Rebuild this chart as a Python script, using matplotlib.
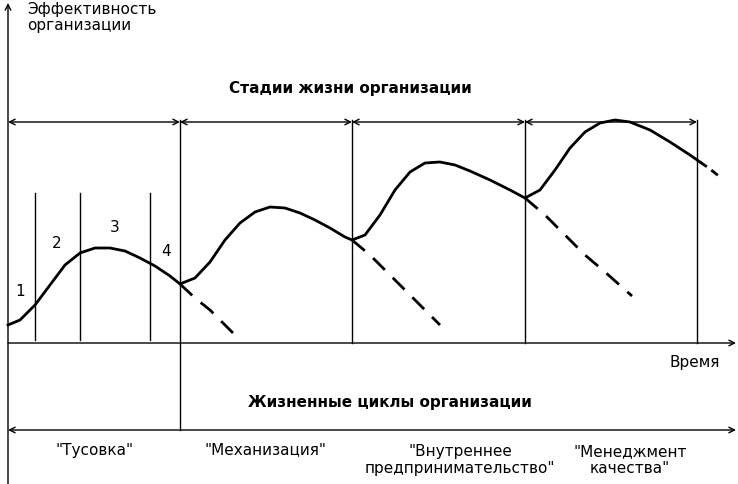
import matplotlib.pyplot as plt

# schematic drawn in pixel coordinates of the reference (y grows downward)
curve_x = [8, 20, 35, 50, 65, 80, 95, 110, 125, 140, 155, 170, 180, 195, 210, 225, 240, 255, 270,
           285, 300, 315, 330, 345, 352, 365, 380, 395, 410, 425, 440, 455, 470, 490, 510, 525,
           540, 555, 570, 585, 600, 615, 630, 650, 670, 690, 700]
curve_y = [325, 320, 305, 285, 265, 253, 248, 248, 251, 258, 266, 276, 284, 278, 262, 240, 223, 212, 207,
           208, 213, 220, 228, 237, 240, 235, 215, 190, 172, 163, 162, 165, 171, 180, 190, 198,
           190, 170, 148, 132, 123, 120, 122, 130, 142, 155, 162]
tail_x = [700, 710, 720]
tail_y = [162, 169, 177]
decline = [
    ([180, 195, 210, 225, 238], [284, 298, 310, 325, 338]),
    ([352, 370, 390, 410, 425, 440], [240, 255, 275, 295, 310, 325]),
    ([525, 545, 565, 585, 605, 632], [198, 215, 235, 255, 272, 296]),
]
stage_x = [8, 180, 352, 525, 697]
sub_x = [35, 80, 150]
sub_labels = ["1", "2", "3", "4"]
sub_label_pos = [(20, 292), (57, 243), (115, 228), (166, 252)]
cycle_labels = ['"Тусовка"', '"Механизация"', '"Внутреннее\nпредпринимательство"', '"Менеджмент\nкачества"']
cycle_label_pos = [(95, 450), (265, 450), (460, 460), (630, 460)]

fig = plt.figure(figsize=(7.38, 4.84), dpi=100)
ax = fig.add_axes([0, 0, 1, 1])
ax.set_xlim(0, 738)
ax.set_ylim(484, 0)
ax.axis("off")
plt.rcParams["font.family"] = "DejaVu Sans"

arr = dict(arrowstyle="->", color="black", lw=1, shrinkA=0, shrinkB=0)
darr = dict(arrowstyle="<->", color="black", lw=1, shrinkA=0, shrinkB=0)

# axes
ax.annotate("", xy=(8, 3), xytext=(8, 484), arrowprops=arr)
ax.annotate("", xy=(736, 343), xytext=(8, 343), arrowprops=arr)

# stage lines and arrows
for i, x in enumerate(stage_x[1:]):
    y0 = 430 if x == 180 else 343
    ax.plot([x, x], [120, y0], color="black", lw=1)
for a, b in zip(stage_x[:-1], stage_x[1:]):
    ax.annotate("", xy=(b, 122), xytext=(a, 122), arrowprops=darr)
ax.annotate("", xy=(736, 430), xytext=(8, 430), arrowprops=darr)

for x in sub_x:
    ax.plot([x, x], [193, 340], color="black", lw=1)

ax.plot(curve_x, curve_y, color="black", lw=2)
ax.plot(tail_x, tail_y, color="black", lw=2, ls=(0, (3, 2)))
for dx, dy in decline:
    ax.plot(dx, dy, color="black", lw=2, ls=(0, (6, 4)))

ax.text(27, 2, "Эффективность\nорганизации", fontsize=11, va="top", ha="left", linespacing=1.1)
ax.text(350, 88, "Стадии жизни организации", fontsize=11, fontweight="bold", ha="center", va="center")
ax.text(720, 362, "Время", fontsize=11, ha="right", va="center")
ax.text(390, 402, "Жизненные циклы организации", fontsize=11, fontweight="bold", ha="center", va="center")
for s, (x, y) in zip(sub_labels, sub_label_pos):
    ax.text(x, y, s, fontsize=11, ha="center", va="center")
for s, (x, y) in zip(cycle_labels, cycle_label_pos):
    ax.text(x, y, s, fontsize=11, ha="center", va="center", linespacing=1.1)

fig.savefig("out.png", dpi=100)
